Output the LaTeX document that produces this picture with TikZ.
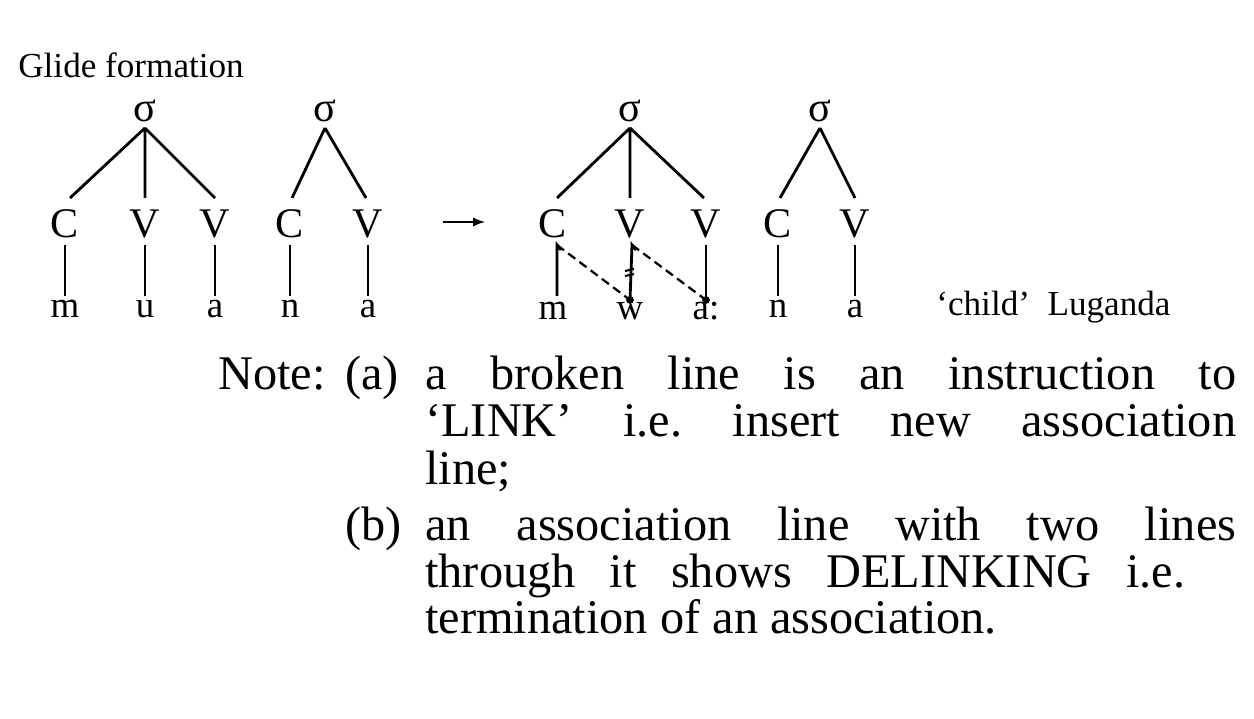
\documentclass[tikz,border=0pt]{standalone}
\usepackage{fontspec}
\setmainfont{Liberation Serif}
\begin{document}
\begin{tikzpicture}[x=0.02cm,y=-0.02cm,
  lab/.style={font=\fontsize{24}{26}\selectfont, inner sep=0pt, anchor=base},
  seg/.style={font=\fontsize{21}{24}\selectfont, inner sep=0pt, anchor=base},
  sm/.style={font=\fontsize{20}{23}\selectfont, inner sep=0pt, anchor=base west},
  big/.style={font=\fontsize{27.5}{31}\selectfont, inner sep=0pt, anchor=base west},
  ln/.style={line width=1.6pt},
  dl/.style={line width=1.3pt, dash pattern=on 5pt off 3pt}]
\useasboundingbox (0,0) rectangle (1254,719);
\node[sm] (title) at (18,78) {Glide formation};
% tree 1
\node[lab] (s1) at (145,122) {σ};
\node[lab] (c1) at (65,238) {C};
\node[lab] (v1) at (145,238) {V};
\node[lab] (v2) at (215,238) {V};
\node[seg] (m1) at (65,318) {m};
\node[seg] (u1) at (145,318) {u};
\node[seg] (a1) at (215,318) {a};
\coordinate (r1) at (145,128);
\draw[ln] (r1) -- (70,198) (r1) -- (145,198) (r1) -- (215,198);
\draw[ln] (65,245) -- (65,296) (145,245) -- (145,296) (215,245) -- (215,296);
% tree 2
\node[lab] (s2) at (325,122) {σ};
\node[lab] (c2) at (290,238) {C};
\node[lab] (v3) at (368,238) {V};
\node[seg] (n1) at (290,318) {n};
\node[seg] (a2) at (368,318) {a};
\coordinate (r2) at (325,128);
\draw[ln] (r2) -- (292,198) (r2) -- (366,198);
\draw[ln] (290,245) -- (290,296) (368,245) -- (368,296);
% arrow
\coordinate (ar1) at (443,222); \coordinate (ar2) at (485,222);
\draw[line width=1.3pt,-latex] (ar1) -- (ar2);
% tree 3
\node[lab] (s3) at (630,122) {σ};
\node[lab] (c3) at (553,238) {C};
\node[lab] (v4) at (630,238) {V};
\node[lab] (v5) at (706,238) {V};
\node[seg] (m2) at (553,320) {m};
\node[seg] (w2) at (630,320) {w};
\node[seg] (a3) at (706,320) {a:};
\coordinate (r3) at (630,128);
\draw[ln] (r3) -- (557,198) (r3) -- (630,198) (r3) -- (704,198);
\coordinate (ct) at (557,245); \coordinate (cb) at (557,296);
\coordinate (vt) at (632,245); \coordinate (vb) at (630,300);
\coordinate (wt) at (706,245); \coordinate (wb) at (706,300);
\draw[ln] (cb) -- (ct) -- (561,250);
\draw[ln] (vb) -- (vt) -- (636,250);
\draw[ln] (wt) -- (wb);
\draw[dl] (ct) -- (vb);
\draw[dl] (vt) -- (wb);
\fill (vb) circle (2.2pt); \fill (wb) circle (2.2pt);
\draw[line width=1.2pt] (625,271) -- (634,269) (625,276) -- (634,274);
% tree 4
\node[lab] (s4) at (820,122) {σ};
\node[lab] (c4) at (778,238) {C};
\node[lab] (v6) at (855,238) {V};
\node[seg] (n2) at (778,318) {n};
\node[seg] (a4) at (855,318) {a};
\coordinate (r4) at (820,128);
\draw[ln] (r4) -- (780,198) (r4) -- (855,198);
\draw[ln] (778,245) -- (778,296) (855,245) -- (855,296);
\node[sm] (gl) at (936,316) {`child'\ \ Luganda};
% note
\node[big] (note) at (218,390) {Note:};
\node[big] (pa) at (345,390) {(a)};
\node[big] (la1) at (425,390) {\makebox[16.22cm][s]{a broken line is an instruction to}};
\node[big] (la2) at (425,437) {\makebox[16.22cm][s]{`LINK' i.e.\ insert new association}};
\node[big] (la3) at (425,484) {line;};
\node[big] (pb) at (345,540) {(b)};
\node[big] (lb1) at (425,540) {\makebox[16.22cm][s]{an association line with two lines}};
\node[big] (lb2) at (425,587) {\makebox[15.2cm][s]{through it shows DELINKING i.e.}};
\node[big] (lb3) at (425,633) {termination of an association.};
\end{tikzpicture}
\end{document}
